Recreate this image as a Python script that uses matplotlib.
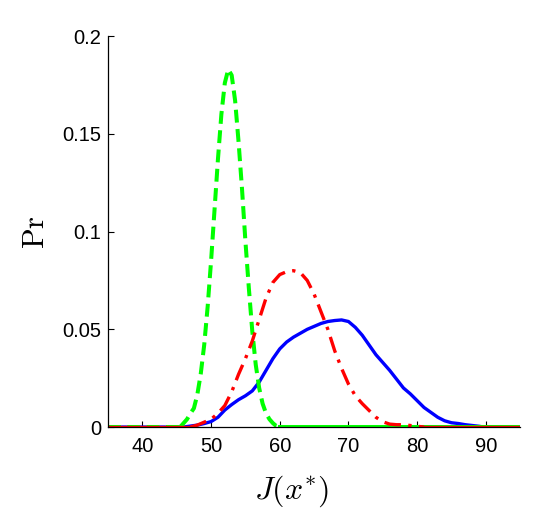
import numpy as np
import matplotlib
matplotlib.use('Agg')
import matplotlib.pyplot as plt

plt.rcParams['font.family'] = ['Liberation Sans', 'DejaVu Sans']
plt.rcParams['mathtext.fontset'] = 'cm'

# values
x_blue = [35, 46, 47, 48, 49, 50, 51, 52, 53, 54, 55, 56, 57, 58, 59, 60, 61, 62, 63,
          64, 65, 66, 67, 68, 69, 70, 71, 72, 73, 74, 75, 76, 77, 78, 79, 80, 81, 82,
          83, 84, 85, 86, 87, 88, 89, 89.7, 95]
y_blue = [0, 0, 0.0005, 0.001, 0.0018, 0.0028, 0.005, 0.0087, 0.0115, 0.014, 0.016,
          0.0185, 0.023, 0.029, 0.035, 0.040, 0.0435, 0.046, 0.048, 0.050, 0.0515,
          0.053, 0.054, 0.0545, 0.0548, 0.054, 0.051, 0.047, 0.042, 0.037, 0.033,
          0.029, 0.0245, 0.020, 0.017, 0.0135, 0.010, 0.0075, 0.005, 0.0032, 0.0022,
          0.0018, 0.0012, 0.0008, 0.0004, 0, 0]

x_green = [35, 45.5, 46, 46.5, 47, 47.5, 48, 48.5, 49, 49.5, 50, 50.5, 51, 51.5, 52,
           52.5, 53, 53.5, 54, 54.5, 55, 55.5, 56, 56.5, 57, 57.5, 58, 58.5, 59, 59.5,
           60, 95]
y_green = [0, 0, 0.002, 0.004, 0.007, 0.0096, 0.0166, 0.0273, 0.042, 0.0615, 0.085,
           0.111, 0.137, 0.160, 0.176, 0.183, 0.180, 0.167, 0.146, 0.122, 0.095, 0.071,
           0.049, 0.032, 0.020, 0.012, 0.007, 0.004, 0.002, 0.0005, 0, 0]

x_red = [35, 47, 47.5, 48, 49, 50, 51, 52, 53, 54, 55, 56, 57, 58, 59, 60, 61, 62, 63,
         64, 65, 66, 67, 68, 69, 70, 71, 72, 73, 74, 75, 76, 77, 78, 79, 80, 81, 95]
y_red = [0, 0, 0.0005, 0.001, 0.0025, 0.004, 0.007, 0.011, 0.018, 0.027, 0.035, 0.044,
         0.055, 0.066, 0.074, 0.078, 0.0795, 0.080, 0.079, 0.075, 0.068, 0.059, 0.050,
         0.039, 0.030, 0.022, 0.016, 0.012, 0.0085, 0.005, 0.0027, 0.0015, 0.0012,
         0.0012, 0.0008, 0.0004, 0, 0]

x_ticks = [40, 50, 60, 70, 80, 90]
y_ticks = [0, 0.05, 0.1, 0.15, 0.2]
y_tick_labels = ['0', '0.05', '0.1', '0.15', '0.2']


def split_zero(x, y):
    """Split a curve into its hump and the flat parts lying on zero."""
    x = np.asarray(x, float)
    y = np.asarray(y, float)
    nz = np.nonzero(y > 0)[0]
    i0, i1 = max(nz[0] - 1, 0), min(nz[-1] + 1, len(y) - 1)
    hump = (x[i0:i1 + 1], y[i0:i1 + 1])
    left = (x[:i0 + 1], y[:i0 + 1])
    right = (x[i1:], y[i1:])
    return hump, left, right


fig = plt.figure(figsize=(5.54, 5.09), dpi=100)
ax = fig.add_axes([0.195, 0.161, 0.744, 0.768])

blue = '#0000ff'
green = '#00ff00'
red = '#ff0000'

ax.plot(x_blue, y_blue, color=blue, linewidth=2.4, solid_capstyle='round')

hump, left, right = split_zero(x_green, y_green)
ax.plot(*hump, color=green, linewidth=2.9, linestyle=(0, (3.2, 1.6)))
ax.plot(*left, color=green, linewidth=2.9, linestyle=(0, (3.2, 1.6)))
ax.plot(*right, color=green, linewidth=2.9)

hump, left, right = split_zero(x_red, y_red)
ax.plot(*hump, color=red, linewidth=2.4, linestyle=(0, (5, 2.2, 1, 2.2)))
ax.plot(*left, color=red, linewidth=2.4)
ax.plot(*right, color=red, linewidth=2.4)

ax.set_xlim(35, 95)
ax.set_ylim(0, 0.2)
ax.set_xticks(x_ticks)
ax.set_yticks(y_ticks)
ax.set_yticklabels(y_tick_labels)
ax.tick_params(direction='in', length=4, width=0.8, labelsize=14.5)
ax.tick_params(axis='x', pad=7)
ax.tick_params(axis='y', pad=5)
for s in ['top', 'right']:
    ax.spines[s].set_visible(False)
for s in ['left', 'bottom']:
    ax.spines[s].set_linewidth(0.9)

ax.set_xlabel(r'$J(x^{*})$', fontsize=23)
ax.xaxis.set_label_coords(0.444, -0.118)
ax.set_ylabel(r'$\mathrm{Pr}$', fontsize=22, labelpad=8)

fig.savefig('out.png', dpi=100)
